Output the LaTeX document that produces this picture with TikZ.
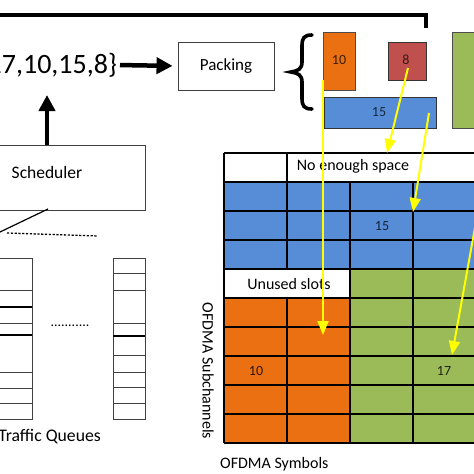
\documentclass[tikz,border=0pt]{standalone}
\usepackage{fontspec}
\setmainfont{Carlito}
\usetikzlibrary{arrows.meta}
\definecolor{cblue}{HTML}{578DD6}
\definecolor{corange}{HTML}{EA7012}
\definecolor{cred}{HTML}{C0504D}
\definecolor{cgreen}{HTML}{9BBB59}
\definecolor{cyell}{HTML}{FFFF00}
\definecolor{boxline}{HTML}{404040}
\tikzset{
  fs/.style={font=\fontsize{#1}{#1}\selectfont},
  plainbox/.style={draw=boxline, line width=0.9pt, fill=white, inner sep=0pt},
  bigarrow/.style={line width=4.5pt, -{Triangle[length=16pt,width=16pt]}},
  yarrow/.style={draw=cyell, line width=2pt, -{Triangle[length=14pt,width=11pt]}},
  gridline/.style={line width=1.1pt, black},
  qline/.style={line width=0.8pt, boxline},
  qthick/.style={line width=1.4pt, black},
}
\begin{document}
\begin{tikzpicture}[x=1pt,y=-1pt]
\clip (0,0) rectangle (474,474);
\fill[white] (0,0) rectangle (474,474);

% top bracket line
\draw[line width=3.5pt] (-5,15) -- (426,15) -- (426,28);

% set text
\node[fs=28, anchor=east, inner sep=0pt] (set) at (117,65) {\{17,10,15,8\}};

% packing box
\node[plainbox, minimum width=96pt, minimum height=48pt, fs=17] (pack) at (226,66) {Packing};
\draw[bigarrow, shorten <=3pt, shorten >=5pt] (set.east) -- (pack.west);

% scheduler
\node[plainbox, minimum width=152pt, minimum height=65pt] (sched) at (69,177.5) {};
\node[fs=17.5, inner sep=0pt] (schedtext) at (47,172) {Scheduler};
\coordinate (setbot) at (47,95);
\draw[bigarrow] (schedtext |- sched.north) -- (setbot);

% lines to queues
\coordinate (qa) at (48,209);
\coordinate (qb) at (0,232);
\coordinate (qc) at (7,233);
\coordinate (qd) at (98,236);
\draw[line width=1.2pt] (qa) -- (qb);
\draw[line width=1.3pt, dash pattern=on 2.2pt off 1.6pt] (qc) -- (qd);

% traffic queues
\node[draw=boxline, line width=0.9pt, minimum width=37pt, minimum height=161pt, inner sep=0pt] (q1) at (13.5,338.5) {};
\foreach \y in {290,323,372,388,403} \draw[qline] (-5,\y) -- (32,\y);
\foreach \y in {307,335} \draw[qthick] (-5,\y) -- (32,\y);
\node[draw=boxline, line width=0.9pt, minimum width=32pt, minimum height=161pt, inner sep=0pt] (q2) at (129,338.5) {};
\foreach \y in {273,290,323,355,372,387,403} \draw[qline] (113,\y) -- (145,\y);
\draw[qthick] (113,336) -- (145,336);
\node[fs=14, inner sep=0pt] (dots) at (70,326) {...........};
\node[fs=17.7, anchor=east, inner sep=0pt] (tq) at (101,437) {Traffic Queues};

% top packets
\node[fill=corange, draw=black!70, line width=0.7pt, minimum width=32pt, minimum height=58pt, inner sep=0pt] (p10) at (339,61) {};
\node[fs=14, text=black!75!corange] at (339,60) {10};
\node[fill=cred, draw=black!80, line width=0.9pt, minimum width=38pt, minimum height=38pt, inner sep=0pt] (p8) at (407,61) {};
\node[fs=14, text=black!70!cred] at (406,60) {8};
\node[fill=cblue, draw=black!80, line width=0.9pt, minimum width=112pt, minimum height=31pt, inner sep=0pt] (p15) at (380,112.5) {};
\node[fs=14, text=black!70!cblue] at (379,112) {15};
\node[fill=cgreen, draw=black!70, line width=0.7pt, minimum width=40pt, minimum height=96pt, inner sep=0pt] (p17) at (472,80) {};

% brace
\draw[line width=3.6pt, line cap=round]
  (312,35) .. controls (304,35) and (302,38) .. (302,46) -- (302,62)
  .. controls (302,69) and (298,71) .. (291,72)
  .. controls (298,73) and (302,75) .. (302,82) -- (302,98)
  .. controls (302,106) and (304,109) .. (312,109);

% OFDMA grid fills
\fill[cblue] (224,182) rectangle (480,269);
\fill[cgreen] (350,269) rectangle (480,443);
\fill[corange] (224,298) rectangle (350,443);
% horizontal lines
\foreach \y in {153,182,211,240,269,298,327,356,385,414,443}
  \draw[gridline] (224,\y) -- (480,\y);
% vertical lines
\draw[gridline] (224,153) -- (224,443);
\draw[gridline] (287,153) -- (287,269);
\draw[gridline] (287,298) -- (287,443);
\draw[gridline] (350,182) -- (350,443);
\draw[gridline] (413,182) -- (413,443);

\node[fs=16, inner sep=0pt] (nes) at (353,166) {No enough space};
\node[fs=14, text=black!75!cblue, inner sep=0pt] (g15) at (382,226) {15};
\node[fs=16, inner sep=0pt] (us) at (289,284) {Unused slots};
\node[fs=14, text=black!80!corange, inner sep=0pt] (g10) at (256,371) {10};
\node[fs=14, text=black!80!cgreen, inner sep=0pt] (g17) at (444,371) {17};

\node[fs=16, rotate=-90, inner sep=0pt] (sub) at (208,371) {OFDMA Subchannels};
\node[fs=16, inner sep=0pt, anchor=west] (sym) at (220,464) {OFDMA Symbols};

% yellow arrows
\coordinate (y1s) at (323,80);  \coordinate (y1e) at (323,335);
\coordinate (y2s) at (408,68);  \coordinate (y2e) at (387,153);
\coordinate (y3s) at (429,113); \coordinate (y3e) at (413,212);
\coordinate (y4s) at (476,222); \coordinate (y4e) at (452,355);
\draw[yarrow] (y1s) -- (y1e);
\draw[yarrow] (y2s) -- (y2e);
\draw[yarrow] (y3s) -- (y3e);
\draw[yarrow] (y4s) -- (y4e);
\end{tikzpicture}
\end{document}
